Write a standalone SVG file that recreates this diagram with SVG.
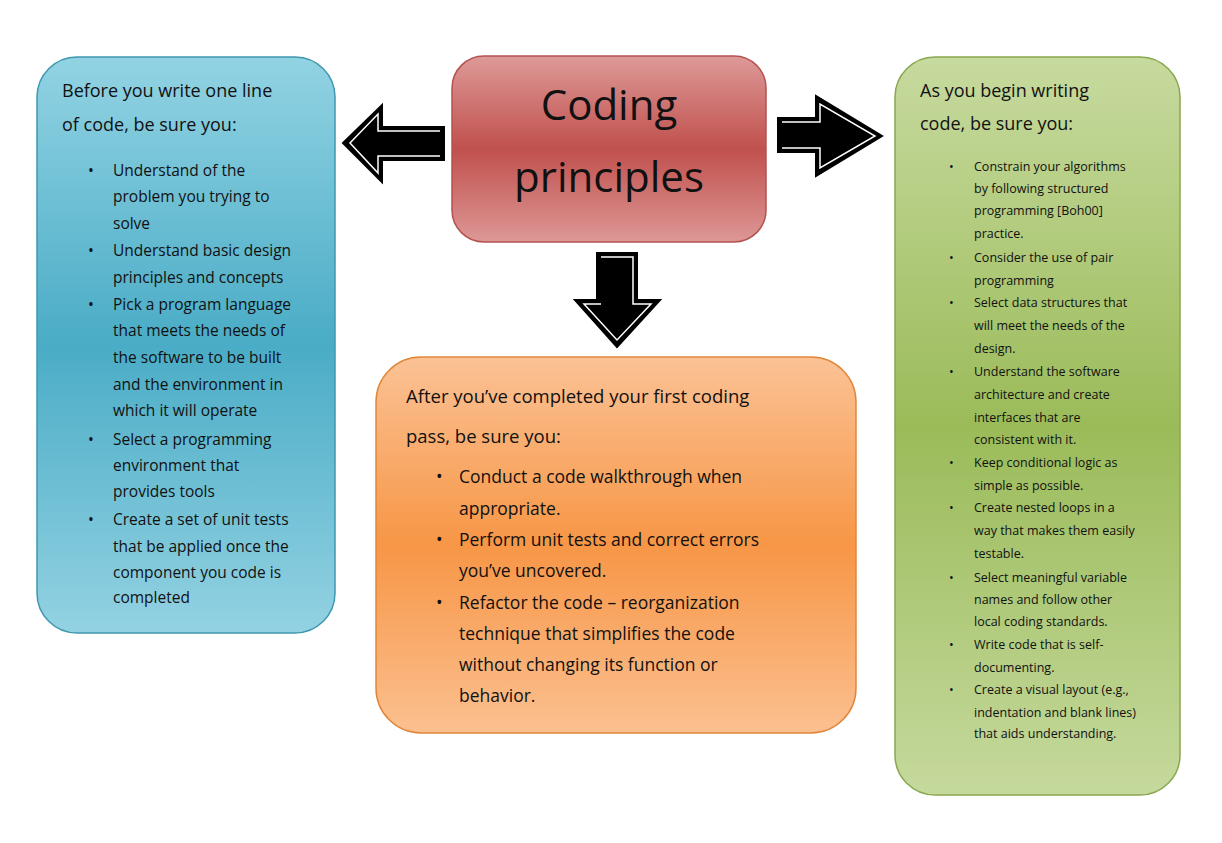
<svg xmlns="http://www.w3.org/2000/svg" width="1222" height="843" viewBox="0 0 1222 843">
<defs>
<linearGradient id="gb" x1="0" y1="0" x2="0" y2="1"><stop offset="0" stop-color="#92d3e3"/><stop offset="0.5" stop-color="#4aacc6"/><stop offset="1" stop-color="#93d2e2"/></linearGradient>
<linearGradient id="gr" x1="0" y1="0" x2="0" y2="1"><stop offset="0" stop-color="#dd9a98"/><stop offset="0.5" stop-color="#c0504d"/><stop offset="1" stop-color="#dd9896"/></linearGradient>
<linearGradient id="go" x1="0" y1="0" x2="0" y2="1"><stop offset="0" stop-color="#fbc295"/><stop offset="0.5" stop-color="#f79646"/><stop offset="1" stop-color="#fbc090"/></linearGradient>
<linearGradient id="gg" x1="0" y1="0" x2="0" y2="1"><stop offset="0" stop-color="#c7da9f"/><stop offset="0.5" stop-color="#9bbb59"/><stop offset="1" stop-color="#c5d99d"/></linearGradient>
</defs>
<style>
text{font-family:"Open Sans","Liberation Sans",sans-serif;fill:#111}
.l{font-size:15.5px}.lh{font-size:18px}
.g{font-size:12.5px}.gh{font-size:18px}
.o{font-size:17.5px}.oh{font-size:18.5px}
.t{font-size:42px}
.arr{fill:#000;stroke:#000;stroke-width:2}
.inner{fill:none;stroke:#fff;stroke-width:1.5}
</style>
<rect width="1222" height="843" fill="#fff"/>
<g id="connectors">
<path class="arr" d="M444,127 L382,127 L382,105 L343,143 L382,182 L382,160 L444,160 Z"/>
<path class="inner" d="M440,131 L378,131 L378,114 L350,143 L378,173 L378,156 L440,156"/>
<path class="arr" d="M778,118 L816,118 L816,96 L882,136 L816,176 L816,152 L778,152 Z"/>
<path class="inner" d="M782,122 L820,122 L820,104 L875,136 L820,168 L820,148 L782,148"/>
<path class="arr" d="M597,253 L637,253 L637,300 L660,300 L617,347 L575,300 L597,300 Z"/>
<path class="inner" d="M601,257 L633,257 L633,304 L651,304 L617,340 L584,304 L601,304"/>
</g>
<g id="center">
<rect x="452" y="56" width="314" height="186" rx="32" fill="url(#gr)" stroke="#b4524f" stroke-width="1.5"/>
<text class="t" x="609" y="120" text-anchor="middle">Coding</text>
<text class="t" x="609" y="192" text-anchor="middle">principles</text>
</g>
<g id="left">
<rect x="37" y="57" width="298" height="576" rx="40" fill="url(#gb)" stroke="#3f98b0" stroke-width="1.5"/>
<text class="lh" x="62" y="97">Before you write one line</text>
<text class="lh" x="62" y="131">of code, be sure you:</text>
<g class="l">
<text x="88" y="176">•</text><text x="113" y="176">Understand of the</text>
<text x="113" y="202">problem you trying to</text>
<text x="113" y="229">solve</text>
<text x="88" y="256">•</text><text x="113" y="256">Understand basic design</text>
<text x="113" y="283">principles and concepts</text>
<text x="88" y="310">•</text><text x="113" y="310">Pick a program language</text>
<text x="113" y="336">that meets the needs of</text>
<text x="113" y="363">the software to be built</text>
<text x="113" y="390">and the environment in</text>
<text x="113" y="416">which it will operate</text>
<text x="88" y="445">•</text><text x="113" y="445">Select a programming</text>
<text x="113" y="471">environment that</text>
<text x="113" y="497">provides tools</text>
<text x="88" y="525">•</text><text x="113" y="525">Create a set of unit tests</text>
<text x="113" y="552">that be applied once the</text>
<text x="113" y="578">component you code is</text>
<text x="113" y="603">completed</text>
</g>
</g>
<g id="bottom">
<rect x="376" y="357" width="480" height="376" rx="45" fill="url(#go)" stroke="#e0873c" stroke-width="1.5"/>
<text class="oh" x="406" y="403">After you’ve completed your first coding</text>
<text class="oh" x="406" y="443">pass, be sure you:</text>
<g class="o">
<text x="436" y="483">•</text><text x="459" y="483">Conduct a code walkthrough when</text>
<text x="459" y="515">appropriate.</text>
<text x="436" y="546">•</text><text x="459" y="546">Perform unit tests and correct errors</text>
<text x="459" y="577">you’ve uncovered.</text>
<text x="436" y="609">•</text><text x="459" y="609">Refactor the code – reorganization</text>
<text x="459" y="640">technique that simplifies the code</text>
<text x="459" y="671">without changing its function or</text>
<text x="459" y="702">behavior.</text>
</g>
</g>
<g id="right">
<rect x="895" y="57" width="285" height="738" rx="40" fill="url(#gg)" stroke="#89a84f" stroke-width="1.5"/>
<text class="gh" x="920" y="97">As you begin writing</text>
<text class="gh" x="920" y="130">code, be sure you:</text>
<g class="g">
<text x="949" y="171">•</text><text x="974" y="171">Constrain your algorithms</text>
<text x="974" y="193">by following structured</text>
<text x="974" y="215">programming [Boh00]</text>
<text x="974" y="238">practice.</text>
<text x="949" y="262">•</text><text x="974" y="262">Consider the use of pair</text>
<text x="974" y="285">programming</text>
<text x="949" y="307">•</text><text x="974" y="307">Select data structures that</text>
<text x="974" y="330">will meet the needs of the</text>
<text x="974" y="353">design.</text>
<text x="949" y="376">•</text><text x="974" y="376">Understand the software</text>
<text x="974" y="399">architecture and create</text>
<text x="974" y="422">interfaces that are</text>
<text x="974" y="444">consistent with it.</text>
<text x="949" y="467">•</text><text x="974" y="467">Keep conditional logic as</text>
<text x="974" y="490">simple as possible.</text>
<text x="949" y="512">•</text><text x="974" y="512">Create nested loops in a</text>
<text x="974" y="535">way that makes them easily</text>
<text x="974" y="558">testable.</text>
<text x="949" y="582">•</text><text x="974" y="582">Select meaningful variable</text>
<text x="974" y="604">names and follow other</text>
<text x="974" y="626">local coding standards.</text>
<text x="949" y="649">•</text><text x="974" y="649">Write code that is self-</text>
<text x="974" y="672">documenting.</text>
<text x="949" y="694">•</text><text x="974" y="694">Create a visual layout (e.g.,</text>
<text x="974" y="717">indentation and blank lines)</text>
<text x="974" y="738">that aids understanding.</text>
</g>
</g>
</svg>
